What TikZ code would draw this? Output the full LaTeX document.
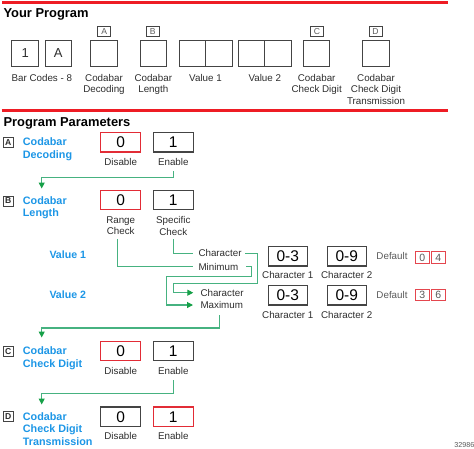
\documentclass[tikz,border=0pt]{standalone}
\usepackage{fontspec}
\setmainfont{Liberation Sans}
\usetikzlibrary{arrows.meta,calc}
\definecolor{cred}{RGB}{226,44,54}
\definecolor{dred}{RGB}{228,70,78}
\definecolor{lred}{RGB}{238,28,36}
\definecolor{boxgray}{RGB}{68,68,68}
\definecolor{txtgray}{RGB}{45,45,45}
\definecolor{dgray}{RGB}{90,90,90}
\definecolor{cblue}{RGB}{28,150,230}
\definecolor{cgreen}{RGB}{70,178,128}
\definecolor{agreen}{RGB}{22,160,72}
\begin{document}
\begin{tikzpicture}[x=1pt,y=-1pt,
  redline/.style={draw=lred,line width=3.4pt},
  title/.style={font=\bfseries\fontsize{12.9}{14}\selectfont,text=black,inner sep=0pt,anchor=base west},
  txt/.style={font=\fontsize{9.8}{11.3}\selectfont,text=txtgray,inner sep=0pt},
  mtxt/.style={txt,align=center,anchor=north},
  bluelbl/.style={font=\bfseries\fontsize{10.8}{12.6}\selectfont,text=cblue,align=left,anchor=north west,inner sep=0pt},
  valuelbl/.style={font=\bfseries\fontsize{10.6}{12}\selectfont,text=cblue,anchor=west,inner sep=0pt},
  ybox/.style={draw=boxgray,line width=1pt,minimum width=26.5pt,minimum height=26.6pt,inner sep=0pt,font=\fontsize{13}{13}\selectfont,text=txtgray},
  tag/.style={draw=boxgray,line width=0.8pt,minimum width=13pt,minimum height=10.7pt,inner sep=0pt,font=\fontsize{8.6}{8.6}\selectfont,text=dgray},
  ptag/.style={draw=boxgray,line width=0.9pt,minimum width=10pt,minimum height=10pt,inner sep=0pt,font=\bfseries\fontsize{8.6}{8.6}\selectfont,text=txtgray},
  pbox/.style={draw=boxgray,line width=1.1pt,minimum width=40pt,minimum height=19.5pt,inner sep=0pt,font=\fontsize{15.5}{15.5}\selectfont,text=black},
  rbox/.style={pbox,draw=cred},
  vbox/.style={pbox,minimum width=39pt,minimum height=19.3pt},
  dbox/.style={draw=dred,line width=1pt,minimum width=14.3pt,minimum height=11.7pt,inner sep=0pt,font=\fontsize{10.5}{10.5}\selectfont,text=dgray},
  deftxt/.style={txt,text=dgray},
  flow/.style={draw=cgreen,line width=1.1pt},
  arr/.style={flow,-{Triangle[length=6pt,width=6pt,color=agreen]}}
]
\useasboundingbox (0,0) rectangle (474,448);

% red rules
\draw[redline] (2,2.2) -- (448.3,2.2);
\draw[redline] (1.7,110.7) -- (448.3,110.7);

% ---------- Your Program ----------
\node[title] (ttlYP) at (3.3,17.3) {Your Program};

\node[ybox] (y1) at (25.2,53.3) {1};
\node[ybox] (yA) at (58.3,53.3) {A};
\node[ybox] (yDec) at (104,53.3) {};
\node[ybox] (yLen) at (153.3,53.3) {};
\node[ybox] (yV1a) at (192.3,53.3) {};
\node[ybox] (yV1b) at (218.8,53.3) {};
\node[ybox] (yV2a) at (251.5,53.3) {};
\node[ybox] (yV2b) at (278,53.3) {};
\node[ybox] (yCD) at (316.7,53.3) {};
\node[ybox] (yTr) at (376,53.3) {};

\node[tag] (tA) at (104.2,31.3) {A};
\node[tag] (tB) at (152.7,31.3) {B};
\node[tag] (tC) at (317,31.3) {C};
\node[tag] (tD) at (375.5,31.3) {D};

\node[mtxt] (lBar) at (41.8,74.2) {Bar Codes - 8};
\node[mtxt] (lDec) at (104,74.2) {Codabar\\Decoding};
\node[mtxt] (lLen) at (153.3,74.2) {Codabar\\Length};
\node[mtxt] (lV1) at (205.5,74.2) {Value 1};
\node[mtxt] (lV2) at (264.8,74.2) {Value 2};
\node[mtxt] (lCD) at (316.7,74.2) {Codabar\\Check Digit};
\node[mtxt] (lTr) at (376,74.2) {Codabar\\Check Digit\\Transmission};

% ---------- Program Parameters ----------
\node[title] (ttlPP) at (3.3,126.2) {Program Parameters};

% Row A
\node[ptag] (pA) at (8.3,142.2) {A};
\node[bluelbl] (bA) at (22.7,137.8) {Codabar\\Decoding};
\node[rbox] (a0) at (120.7,142.2) {0};
\node[pbox] (a1) at (173.3,142.2) {1};
\node[txt] (disA) at (120.7,161.7) {Disable};
\node[txt] (enA) at (173.3,161.7) {Enable};

% Row B
\node[ptag] (pB) at (8.3,201) {B};
\node[bluelbl] (bB) at (22.7,196.1) {Codabar\\Length};
\node[rbox] (b0) at (120.7,200) {0};
\node[pbox] (b1) at (173.3,200) {1};
\node[mtxt] (rangeB) at (120.7,216.5) {Range\\Check};
\node[mtxt] (specB) at (173.3,216.5) {Specific\\Check};

% Value rows
\node[valuelbl] (v1) at (49.3,255) {Value 1};
\node[valuelbl] (v2) at (49.3,295) {Value 2};
\node[txt,anchor=west] (charA) at (198.3,253.3) {Character};
\node[txt,anchor=west] (minA) at (198.3,266.7) {Minimum};
\node[txt,anchor=west] (charB) at (200.3,292.7) {Character};
\node[txt,anchor=west] (maxB) at (200.3,305) {Maximum};

\node[vbox] (r1a) at (287.8,256.3) {0-3};
\node[vbox] (r1b) at (346.7,256.3) {0-9};
\node[txt] (c11) at (287.8,275) {Character 1};
\node[txt] (c12) at (346.7,275) {Character 2};
\node[deftxt] (def1) at (392,256) {Default};
\node[dbox] (d10) at (422.2,257.4) {0};
\node[dbox] (d14) at (438.4,257.4) {4};

\node[vbox] (r2a) at (287.8,295.3) {0-3};
\node[vbox] (r2b) at (346.7,295.3) {0-9};
\node[txt] (c21) at (287.8,315) {Character 1};
\node[txt] (c22) at (346.7,315) {Character 2};
\node[deftxt] (def2) at (392,295) {Default};
\node[dbox] (d23) at (422.2,294.9) {3};
\node[dbox] (d26) at (438.4,294.9) {6};

% Row C
\node[ptag] (pC) at (8.3,351.5) {C};
\node[bluelbl] (bC) at (22.7,346.8) {Codabar\\Check Digit};
\node[rbox] (c0) at (120.7,351) {0};
\node[pbox] (c1) at (173.3,351) {1};
\node[txt] (disC) at (120.7,370.7) {Disable};
\node[txt] (enC) at (173.3,370.7) {Enable};

% Row D
\node[ptag] (pD) at (8.3,416.7) {D};
\node[bluelbl] (bD) at (22.7,412.1) {Codabar\\Check Digit\\Transmission};
\node[pbox] (d0) at (120.7,416.7) {0};
\node[rbox] (d1) at (173.3,416.7) {1};
\node[txt] (disD) at (120.7,436) {Disable};
\node[txt] (enD) at (173.3,436) {Enable};

\node[font=\fontsize{7.2}{8}\selectfont,text=dgray,inner sep=0pt,anchor=east] (fig) at (474.5,445) {32986};

% ---------- connectors ----------
\coordinate (tipB) at (41.7,188.5);
\coordinate (tipC) at (41.7,337.5);
\coordinate (tipD) at (41.7,404.5);

\draw[arr] ([yshift=-5.5pt]enA.south) -- ++(0,6.3) -| (tipB);

\draw[flow] ([xshift=-3.4pt,yshift=-4pt]rangeB.south) |- ([xshift=-5.5pt]minA.west);
\draw[flow] ([yshift=-4pt]specB.south) |- ([xshift=-5.5pt]charA.west);

% Character -> Character
\draw[arr] ([xshift=3.7pt]charA.east) -- (257.7,253.3) -- (257.7,283.6)
   -| ([xshift=-27pt]charB.west) -- ([xshift=-7pt]charB.west);
% Minimum -> Maximum
\draw[arr] ([xshift=8pt]minA.east) -- (251.7,266.7) -- (251.7,276.7)
   -| ([xshift=-33.6pt]maxB.west) -- ([xshift=-7.3pt]maxB.west);

\draw[arr] ([xshift=-2.5pt,yshift=-6.5pt]maxB.south) -- ++(0,12.7) -| (tipC);
\draw[arr] ([yshift=-5.8pt]enC.south) -- ++(0,13.3) -| (tipD);
\end{tikzpicture}
\end{document}
